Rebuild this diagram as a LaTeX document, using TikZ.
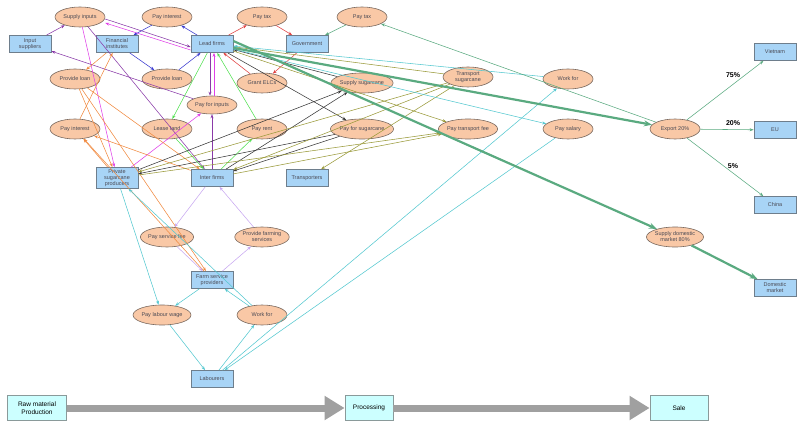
\documentclass[tikz,border=0pt]{standalone}
\usepackage{fontspec}
\setmainfont{Liberation Sans}
\usetikzlibrary{arrows.meta,shapes.geometric}
\definecolor{boxfill}{HTML}{A8D4F6}
\definecolor{boxline}{HTML}{6E7E8C}
\definecolor{ellfill}{HTML}{F9C8A6}
\definecolor{ellline}{HTML}{7A6A60}
\definecolor{stagefill}{HTML}{CCFFFF}
\definecolor{stageline}{HTML}{8A9A9A}
\definecolor{txt}{HTML}{4A4A55}
\definecolor{cRed}{HTML}{E04040}
\definecolor{cBlue}{HTML}{3A3AD0}
\definecolor{cPurple}{HTML}{8A3AA8}
\definecolor{cMag}{HTML}{E040E8}
\definecolor{cGreen}{HTML}{50E050}
\definecolor{cOrange}{HTML}{F08A40}
\definecolor{cBlack}{HTML}{383838}
\definecolor{cOlive}{HTML}{9A9A3A}
\definecolor{cCyan}{HTML}{55C8D0}
\definecolor{cLav}{HTML}{C8A8F0}
\definecolor{cTeal}{HTML}{5AAA80}
\definecolor{cGrey}{HTML}{A0A0A0}
\begin{document}
\begin{tikzpicture}[x=1pt,y=-1pt,
  box/.style={draw=boxline,fill=boxfill,line width=0.8pt,minimum width=42pt,minimum height=17pt,
    inner sep=0.5pt,align=center,text=txt,font=\fontsize{5.5}{6}\selectfont},
  ell/.style={ellipse,draw=ellline,fill=ellfill,line width=0.6pt,minimum width=50pt,minimum height=20pt,
    inner sep=0pt,align=center,text=txt,font=\fontsize{5.5}{6}\selectfont},
  stagebox/.style={draw=stageline,fill=stagefill,line width=0.8pt,minimum height=25pt,inner sep=1pt,
    align=center,text=black,font=\fontsize{6.5}{7.5}\selectfont},
  lnk/.style={-{Stealth[length=4pt,width=3pt]},line width=0.55pt},
  thick lnk/.style={-{Stealth[length=8pt,width=6pt]},line width=2.2pt,draw=cTeal},
  bigarrow/.style={draw=cGrey,line width=7pt,-{Triangle[length=20pt,width=23pt]}},
  pct/.style={font=\bfseries\fontsize{7}{8}\selectfont,text=black,inner sep=0pt}
]
\useasboundingbox (0,0) rectangle (800,425);

% boxes
\node[box] (insup) at (30,44) {Input\\suppliers};
\node[box] (fin) at (117,44) {Financial\\institutes};
\node[box] (lead) at (212,44) {Lead firms};
\node[box] (gov) at (307,44) {Government};
\node[box,minimum height=21pt] (priv) at (117,178) {Private\\sugarcane\\producers};
\node[box] (inter) at (212,178) {Inter firms};
\node[box] (trans) at (307,178) {Transporters};
\node[box] (fsp) at (212,280) {Farm service\\providers};
\node[box] (lab) at (212,379) {Labourers};
\node[box] (vn) at (775,52) {Vietnam};
\node[box] (eu) at (775,130) {EU};
\node[box] (cn) at (775,205) {China};
\node[box] (dom) at (775,288) {Domestic\\market};

% ellipses
\node[ell] (supin) at (80,17) {Supply inputs};
\node[ell] (payint1) at (167,17) {Pay interest};
\node[ell] (paytax1) at (262,17) {Pay tax};
\node[ell] (paytax2) at (362,17) {Pay tax};
\node[ell] (loan1) at (75,79) {Provide loan};
\node[ell] (loan2) at (167,79) {Provide loan};
\node[ell] (elc) at (262,83) {Grant ELCs};
\node[ell] (supsug) at (362,83) {Supply sugarcane};
\node[ell] (transsug) at (468,77) {Transport\\sugarcane};
\node[ell] (work1) at (568,79) {Work for};
\node[ell,minimum height=18pt] (payinp) at (212,105) {Pay for inputs};
\node[ell] (payint2) at (75,129) {Pay interest};
\node[ell] (lease) at (167,129) {Lease land};
\node[ell] (rent) at (262,129) {Pay rent};
\node[ell] (paysug) at (362,129) {Pay for sugarcane};
\node[ell] (paytr) at (468,129) {Pay transport fee};
\node[ell] (salary) at (568,129) {Pay salary};
\node[ell] (export) at (675,129) {Export 20\%};
\node[ell] (supdom) at (675,237) {Supply domestic\\market 80\%};
\node[ell] (service) at (167,237) {Pay service fee};
\node[ell] (farmsvc) at (262,237) {Provide farming\\services};
\node[ell] (wage) at (162,315) {Pay labour wage};
\node[ell] (work2) at (262,315) {Work for};

% stages
\node[stagebox,minimum width=59pt] (raw) at (37,408) {Raw material\\Production};
\node[stagebox,minimum width=48pt] (proc) at (369,408) {Processing};
\node[stagebox,minimum width=58pt] (sale) at (679,408) {Sale};
\draw[bigarrow] (raw) -- (proc);
\draw[bigarrow] (proc) -- (sale);

% percentages
\node[pct] (p75) at (733,75) {75\%};
\node[pct] (p20) at (733,123) {20\%};
\node[pct] (p5) at (733,166) {5\%};

% red: tax and ELCs
\draw[lnk,cRed] (lead) -- (paytax1);
\draw[lnk,cRed] (paytax1) -- (gov);
\draw[lnk,cRed] (gov) -- (elc);
\draw[lnk,cRed] (elc) -- (lead);

% blue: loans from financial institutes to lead firms
\draw[lnk,cBlue] (lead) -- (payint1);
\draw[lnk,cBlue] (payint1) -- (fin);
\draw[lnk,cBlue] (fin) -- (loan2);
\draw[lnk,cBlue] (loan2) -- (lead);

% purple / magenta: inputs
\draw[lnk,cPurple] (insup) -- (supin);
\draw[lnk,cPurple] ([yshift=-2pt]supin.east) -- ([yshift=-3pt]lead.west);
\draw[lnk,cMag] ([yshift=-6pt]lead.west) -- ([yshift=-6pt]supin.east);
\draw[lnk,cMag] (supin) -- (priv);
\draw[lnk,cPurple] (supin) -- (inter);
\draw[lnk,cPurple] ([xshift=-2pt]lead.south) -- ([xshift=-2pt]payinp.north);
\draw[lnk,cMag] ([xshift=2pt]payinp.north) -- ([xshift=2pt]lead.south);
\draw[lnk,cPurple] (payinp) -- (insup);
\draw[lnk,cPurple] (inter) -- (payinp);
\draw[lnk,cMag] (priv) -- (payinp);

% green: land
\draw[lnk,cGreen] (lead) -- (lease);
\draw[lnk,cGreen] (lease) -- (inter);
\draw[lnk,cGreen] (inter) -- (rent);
\draw[lnk,cGreen] (rent) -- (lead);

% orange: loans to producers
\draw[lnk,cOrange] (fin) -- (loan1);
\draw[lnk,cOrange] (loan1) -- (priv);
\draw[lnk,cOrange] (loan1) -- (inter);
\draw[lnk,cOrange] (loan1) -- (fsp);
\draw[lnk,cOrange] (priv) -- (payint2);
\draw[lnk,cOrange] (inter) -- (payint2);
\draw[lnk,cOrange] (fsp) -- (payint2);
\draw[lnk,cOrange] (payint2) -- (fin);

% black: sugarcane
\draw[lnk,cBlack] (priv) -- (supsug);
\draw[lnk,cBlack] (inter) -- (supsug);
\draw[lnk,cBlack] (supsug) -- (lead);
\draw[lnk,cBlack] (lead) -- (paysug);
\draw[lnk,cBlack] (paysug) -- (priv);
\draw[lnk,cBlack] (paysug) -- (inter);

% olive: transport
\draw[lnk,cOlive] (transsug) -- (priv);
\draw[lnk,cOlive] (transsug) -- (inter);
\draw[lnk,cOlive] (transsug) -- (lead);
\draw[lnk,cOlive] (transsug) -- (trans);
\draw[lnk,cOlive] (lead) -- (paytr);
\draw[lnk,cOlive] (priv) -- (paytr);
\draw[lnk,cOlive] (inter) -- (paytr);

% lavender: farm services
\draw[lnk,cLav] (inter) -- (service);
\draw[lnk,cLav] (service) -- (fsp);
\draw[lnk,cLav] (fsp) -- (farmsvc);
\draw[lnk,cLav] (farmsvc) -- (inter);

% cyan: labour
\draw[lnk,cCyan] (lab) -- (work1);
\draw[lnk,cCyan] (work1) -- (lead);
\draw[lnk,cCyan] (lead) -- (salary);
\draw[lnk,cCyan] (salary) -- (lab);
\draw[lnk,cCyan] (priv) -- (wage);
\draw[lnk,cCyan] (fsp) -- (wage);
\draw[lnk,cCyan] (wage) -- (lab);
\draw[lnk,cCyan] (lab) -- (work2);
\draw[lnk,cCyan] (work2) -- (fsp);
\draw[lnk,cCyan] (work2) -- (priv);

% teal: sale
\draw[thick lnk] (lead) -- (export);
\draw[thick lnk] ([yshift=3pt]lead.east) -- (supdom);
\draw[thick lnk] (supdom) -- (dom);
\draw[lnk,cTeal] (export) -- (vn);
\draw[lnk,cTeal] (export) -- (eu);
\draw[lnk,cTeal] (export) -- (cn);
\draw[lnk,cTeal] (export) -- (paytax2);
\draw[lnk,cTeal] (paytax2) -- (gov);
\end{tikzpicture}
\end{document}
